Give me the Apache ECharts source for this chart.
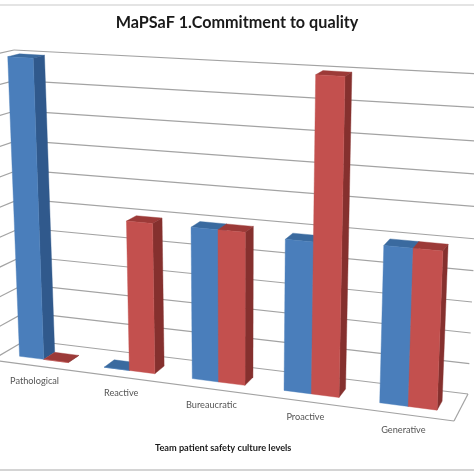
<!DOCTYPE html>
<html><head><meta charset="utf-8">
<style>html,body{margin:0;padding:0;background:#fff}#c{width:474px;height:474px}</style>
<script src="https://cdn.jsdelivr.net/npm/echarts@6/dist/echarts.min.js"></script>
</head><body><div id="c"></div>
<script>
const categories = ['Pathological','Reactive','Bureaucratic','Proactive','Generative'];
const seriesA = [100, 0, 50, 49, 50];
const seriesB = [0, 50, 50, 100, 50];
const valueTicks = [0,10,20,30,40,50,60,70,80,90,100];
const chartTitle = 'MaPSaF 1.Commitment to quality';
const axisTitle = 'Team patient safety culture levels';

const S = 474;
function homography(p){
  const [x0,y0]=p[0],[x1,y1]=p[1],[x2,y2]=p[2],[x3,y3]=p[3];
  const dx1=x1-x2,dx2=x3-x2,sx=x0-x1+x2-x3,dy1=y1-y2,dy2=y3-y2,sy=y0-y1+y2-y3;
  const den=dx1*dy2-dx2*dy1,g=(sx*dy2-dx2*sy)/den,h=(dx1*sy-sx*dy1)/den;
  const a=x1-x0+g*x1,b=x3-x0+h*x3,d=y1-y0+g*y1,e=y3-y0+h*y3;
  return (u,v)=>{const w=g*u+h*v+1;return [(a*u+b*v+x0)/w,(d*u+e*v+y0)/w];};
}
// wall planes: lower-left, lower-right, upper-right, upper-left
const frontPlane = homography([[-8,360],[454,421],[467,88],[-21,58]]);
const backPlane  = homography([[26,340],[468,394],[482,74],[14,50]]);
function project(u,v,z){
  const f=frontPlane(u,v),b=backPlane(u,v);
  return [f[0]+(b[0]-f[0])*z,f[1]+(b[1]-f[1])*z];
}
const Z1=0.30,Z2=0.64,BAR=0.29;
function flat(api,cat,val,off){
  const pt=api.coord([cat,val]),band=api.size([1,0])[0];
  return [(pt[0]+off*band)/S,1-pt[1]/S];
}
function poly(points,fill){return {type:'polygon',shape:{points},style:{fill,stroke:fill,lineWidth:0.4},silent:true};}
function barRenderer(o1,o2,front,side,top){
  return function(params,api){
    const c=api.value(0),val=api.value(1);
    const a0=flat(api,c,0,o1),b0=flat(api,c,0,o2),a1=flat(api,c,val,o1),b1=flat(api,c,val,o2);
    const P=(q,z)=>project(q[0],q[1],z);
    return {type:'group',children:[
      poly([P(a1,Z1),P(b1,Z1),P(b1,Z2),P(a1,Z2)],top),
      poly([P(b1,Z1),P(b1,Z2),P(b0,Z2),P(b0,Z1)],side),
      poly([P(a1,Z1),P(b1,Z1),P(b0,Z1),P(a0,Z1)],front)
    ]};
  };
}
function line(a,b){return {type:'line',shape:{x1:a[0],y1:a[1],x2:b[0],y2:b[1]},style:{stroke:'#a3a3a3',lineWidth:1.2},silent:true};}
function gridRenderer(params,api){
  const val=api.value(1);
  const l=flat(api,0,val,-0.5),r=flat(api,4,val,0.5);
  const kids=[line(project(l[0],l[1],1),project(r[0],r[1],1)),line(project(l[0],l[1],1),project(l[0],l[1],0))];
  if(val===0){kids.push(line(project(l[0],l[1],0),project(r[0],r[1],0)));kids.push(line(project(r[0],r[1],0),project(r[0],r[1],1)));}
  return {type:'group',children:kids};
}
function labelRenderer(params,api){
  const c=api.value(0),q=flat(api,c,0,-0.03),p=project(q[0],q[1],0);
  return {type:'text',x:p[0]+3,y:p[1]+16,silent:true,style:{text:categories[c],fill:'#555',font:'9.2px Lato',textAlign:'center',textVerticalAlign:'middle'}};
}
const chart=echarts.init(document.getElementById('c'),null,{renderer:'canvas'});
chart.setOption({
  animation:false,
  backgroundColor:'#fff',
  title:[
    {text:chartTitle,left:'center',top:15,padding:0,textStyle:{fontFamily:'Lato',fontWeight:'bold',fontSize:16.2,color:'#1a1a1a'}},
    {text:axisTitle,left:155,top:444,padding:0,textStyle:{fontFamily:'Lato',fontWeight:'bold',fontSize:9.2,color:'#1a1a1a'}}
  ],
  graphic:[
    {type:'rect',shape:{x:0,y:4,width:474,height:2},style:{fill:'#e4e4e4'},silent:true},
    {type:'rect',shape:{x:0,y:469,width:474,height:2},style:{fill:'#d4d4d4'},silent:true}
  ],
  grid:{left:0,top:0,width:S,height:S},
  xAxis:{type:'category',data:categories,show:false},
  yAxis:{type:'value',min:0,max:100,interval:10,show:false},
  series:[
    {type:'custom',clip:false,renderItem:gridRenderer,data:valueTicks.map(t=>[0,t]),encode:{x:0,y:1},z:1},
    {type:'custom',clip:false,renderItem:labelRenderer,data:categories.map((_,i)=>[i,0]),encode:{x:0,y:1},z:1},
    {type:'custom',clip:false,renderItem:barRenderer(-BAR,0,'#4a7ebb','#30598c','#3a6a9f'),data:seriesA.map((v,i)=>[i,v]),encode:{x:0,y:1},z:2},
    {type:'custom',clip:false,renderItem:barRenderer(0,BAR,'#c3504e','#85302e','#9c3a38'),data:seriesB.map((v,i)=>[i,v]),encode:{x:0,y:1},z:3}
  ]
});
</script></body></html>
